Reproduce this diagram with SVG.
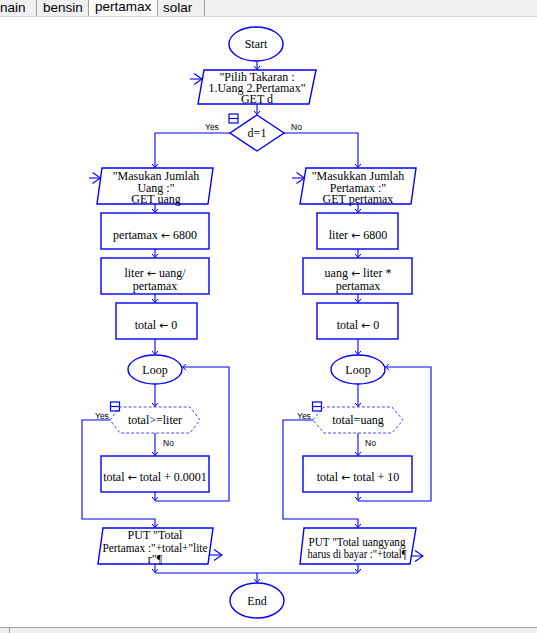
<svg xmlns="http://www.w3.org/2000/svg" width="537" height="633" viewBox="0 0 537 633">
<style>
.shape{fill:#fff;stroke:#0000ff;stroke-width:1.4}
.hex{fill:#fff;stroke:#4a4aff;stroke-width:1;stroke-dasharray:3 2}
.con{fill:none;stroke:#0000ff;stroke-width:1.1}
.icon{fill:none;stroke:#0000ff;stroke-width:1.2}
.t{font-family:"Liberation Serif","Times New Roman",serif;font-size:12px;fill:#000;text-anchor:middle}
.ar{font-family:"DejaVu Sans",sans-serif;font-size:11px}
.lbl{font-family:"Liberation Sans",Arial,sans-serif;font-size:8.5px;fill:#000}
.tab{font-family:"Liberation Sans",Arial,sans-serif;font-size:13.5px;fill:#000}
</style>
<defs>
<marker id="ah" viewBox="0 0 4 7" refX="3.6" refY="3.5" markerWidth="4" markerHeight="7" markerUnits="userSpaceOnUse" orient="auto">
<path d="M0,0.5 L3.6,3.5 L0,6.5" fill="none" stroke="#0000ff" stroke-width="1"/>
</marker>
<marker id="big" viewBox="0 0 9 12" refX="8.5" refY="6" markerWidth="9" markerHeight="12" markerUnits="userSpaceOnUse" orient="auto">
<path d="M0.5,0.5 L8.5,6 L0.5,11.5" fill="none" stroke="#0000ff" stroke-width="1.1"/>
</marker>
</defs>

<g id="tabs">
<rect x="0" y="0" width="537" height="16" fill="#f0f0f0"/>
<rect x="89" y="0" width="68" height="16" fill="#fafafa"/>
<line x1="0" y1="16.5" x2="537" y2="16.5" stroke="#d6d6d6"/>
<line x1="36.5" y1="0" x2="36.5" y2="16" stroke="#a0a0a0"/>
<line x1="88.5" y1="0" x2="88.5" y2="16" stroke="#a0a0a0"/>
<line x1="157.5" y1="0" x2="157.5" y2="16" stroke="#a0a0a0"/>
<line x1="204.5" y1="0" x2="204.5" y2="16" stroke="#a0a0a0"/>
<text class="tab" x="0" y="12">nain</text>
<text class="tab" x="43" y="12">bensin</text>
<text class="tab" x="95" y="10.5">pertamax</text>
<text class="tab" x="163" y="12">solar</text>
</g>
<g id="statusbar">
<rect x="0" y="627" width="537" height="6" fill="#f0f0f0"/>
<line x1="0" y1="627.5" x2="537" y2="627.5" stroke="#a0a0a0"/>
<line x1="9.5" y1="628" x2="9.5" y2="633" stroke="#a0a0a0"/>
</g>

<g id="connectors">
<path class="con" d="M257,61 V69.5" marker-end="url(#ah)"/>
<path class="con" d="M190,79 H202" marker-end="url(#big)"/>
<path class="con" d="M257,104 V114.5" marker-end="url(#ah)"/>
<path class="con" d="M230,133 H155 V167.5" marker-end="url(#ah)"/>
<path class="con" d="M284,133 H358 V167.5" marker-end="url(#ah)"/>
<path class="con" d="M89,178 H100.5" marker-end="url(#big)"/>
<path class="con" d="M292,178 H304.5" marker-end="url(#big)"/>
<path class="con" d="M155,204 V212.5" marker-end="url(#ah)"/>
<path class="con" d="M155,249 V257.5" marker-end="url(#ah)"/>
<path class="con" d="M155,294 V302.5" marker-end="url(#ah)"/>
<path class="con" d="M155,339 V354.5" marker-end="url(#ah)"/>
<path class="con" d="M155,384 V406.5" marker-end="url(#ah)"/>
<path class="con" d="M155,433 V455.5" marker-end="url(#ah)"/>
<path class="con" d="M155,492 V500.5" marker-end="url(#ah)"/>
<path class="con" d="M155,501 H229 V367 H182.5" marker-end="url(#ah)"/>
<path class="con" d="M110,420 H82 V519 H155 V527.5" marker-end="url(#ah)"/>
<path class="con" d="M358,204 V212.5" marker-end="url(#ah)"/>
<path class="con" d="M358,249 V257.5" marker-end="url(#ah)"/>
<path class="con" d="M358,294 V302.5" marker-end="url(#ah)"/>
<path class="con" d="M358,339 V354.5" marker-end="url(#ah)"/>
<path class="con" d="M358,384 V406.5" marker-end="url(#ah)"/>
<path class="con" d="M358,433 V455.5" marker-end="url(#ah)"/>
<path class="con" d="M358,492 V500.5" marker-end="url(#ah)"/>
<path class="con" d="M358,501 H431 V367 H385.5" marker-end="url(#ah)"/>
<path class="con" d="M313,420 H283 V519 H358 V527.5" marker-end="url(#ah)"/>
<path class="con" d="M209,555 H222" marker-end="url(#big)"/>
<path class="con" d="M411,556 H423" marker-end="url(#big)"/>
<path class="con" d="M155,564 V572.5" marker-end="url(#ah)"/>
<path class="con" d="M358,564 V572.5" marker-end="url(#ah)"/>
<path class="con" d="M155,573 H358"/>
<path class="con" d="M257,573 V582.5" marker-end="url(#ah)"/>
<text class="lbl" x="205" y="130">Yes</text>
<text class="lbl" x="291" y="130">No</text>
<text class="lbl" x="95" y="419">Yes</text>
<text class="lbl" x="163" y="446">No</text>
<text class="lbl" x="297" y="419">Yes</text>
<text class="lbl" x="365" y="446">No</text>
</g>

<g id="start">
<ellipse class="shape" cx="256" cy="44" rx="27" ry="17"/>
<text class="t" x="256" y="48">Start</text>
</g>
<g id="input_takaran">
<polygon class="shape" points="204,70 316,70 309,104 198,104"/>
<text class="t" x="257" y="81">"Pilih Takaran :</text>
<text class="t" x="257" y="92">1.Uang 2.Pertamax"</text>
<text class="t" x="257" y="103">GET d</text>
</g>
<g id="decision_d">
<polygon class="shape" points="257,115 284,133 257,151 230,133"/>
<text class="t" x="257" y="137">d=1</text>
<rect class="icon" x="229" y="114" width="9" height="9" fill="#fff"/>
<line class="icon" x1="229" y1="118.5" x2="238" y2="118.5"/>
</g>

<g id="input_uang">
<polygon class="shape" points="102,168 213,168 208,204 97,204"/>
<text class="t" x="156" y="180">"Masukan Jumlah</text>
<text class="t" x="156" y="191.5">Uang :"</text>
<text class="t" x="156" y="203">GET uang</text>
</g>
<g id="set_pertamax">
<rect class="shape" x="101" y="213" width="108" height="36"/>
<text class="t" x="155" y="239">pertamax <tspan class="ar">←</tspan> 6800</text>
</g>
<g id="calc_liter">
<rect class="shape" x="101" y="258" width="108" height="36"/>
<text class="t" x="155" y="277">liter <tspan class="ar">←</tspan> uang/</text>
<text class="t" x="155" y="290">pertamax</text>
</g>
<g id="total0_left">
<rect class="shape" x="116" y="303" width="81" height="36"/>
<text class="t" x="156" y="329">total <tspan class="ar">←</tspan> 0</text>
</g>
<g id="loop_left">
<ellipse class="shape" cx="155" cy="369.5" rx="27" ry="14.5"/>
<text class="t" x="155" y="374">Loop</text>
</g>
<g id="cond_left">
<polygon class="hex" points="110,420 120,407 190,407 200,420 190,433 120,433"/>
<text class="t" x="155" y="424">total&gt;=liter</text>
<rect class="icon" x="110.5" y="402" width="9" height="9" fill="#fff"/>
<line class="icon" x1="110.5" y1="406.5" x2="119.5" y2="406.5"/>
</g>
<g id="inc_left">
<rect class="shape" x="101" y="456" width="108" height="36"/>
<text class="t" x="155" y="481">total <tspan class="ar">←</tspan> total + 0.0001</text>
</g>
<g id="put_left">
<polygon class="shape" points="103,528 213,528 208,564 98,564"/>
<text class="t" x="155" y="539">PUT "Total</text>
<text class="t" x="155" y="552" textLength="105" lengthAdjust="spacingAndGlyphs">Pertamax :"+total+"lite</text>
<text class="t" x="155" y="563">r"¶</text>
</g>

<g id="input_pertamax">
<polygon class="shape" points="306,168 416,168 411,204 300,204"/>
<text class="t" x="358" y="180">"Masukkan Jumlah</text>
<text class="t" x="358" y="191.5">Pertamax :"</text>
<text class="t" x="358" y="203">GET pertamax</text>
</g>
<g id="set_liter">
<rect class="shape" x="317" y="213" width="81" height="36"/>
<text class="t" x="358" y="239">liter <tspan class="ar">←</tspan> 6800</text>
</g>
<g id="calc_uang">
<rect class="shape" x="303" y="258" width="109" height="36"/>
<text class="t" x="358" y="277">uang <tspan class="ar">←</tspan> liter *</text>
<text class="t" x="358" y="290">pertamax</text>
</g>
<g id="total0_right">
<rect class="shape" x="317" y="303" width="81" height="36"/>
<text class="t" x="358" y="329">total <tspan class="ar">←</tspan> 0</text>
</g>
<g id="loop_right">
<ellipse class="shape" cx="358" cy="369.5" rx="27" ry="14.5"/>
<text class="t" x="358" y="374">Loop</text>
</g>
<g id="cond_right">
<polygon class="hex" points="313,420 324,407 392,407 403,420 392,433 324,433"/>
<text class="t" x="358" y="424">total=uang</text>
<rect class="icon" x="312.5" y="402" width="9" height="9" fill="#fff"/>
<line class="icon" x1="312.5" y1="406.5" x2="321.5" y2="406.5"/>
</g>
<g id="inc_right">
<rect class="shape" x="303" y="456" width="109" height="36"/>
<text class="t" x="358" y="481">total <tspan class="ar">←</tspan> total + 10</text>
</g>
<g id="put_right">
<polygon class="shape" points="304,528 416,528 410,564 300,564"/>
<text class="t" x="357" y="546" textLength="97" lengthAdjust="spacingAndGlyphs">PUT "Total uangyang</text>
<text class="t" x="357" y="558" textLength="99" lengthAdjust="spacingAndGlyphs">harus di bayar :"+total¶</text>
</g>

<g id="end">
<ellipse class="shape" cx="257" cy="600.5" rx="27" ry="17.5"/>
<text class="t" x="257" y="605">End</text>
</g>
</svg>
